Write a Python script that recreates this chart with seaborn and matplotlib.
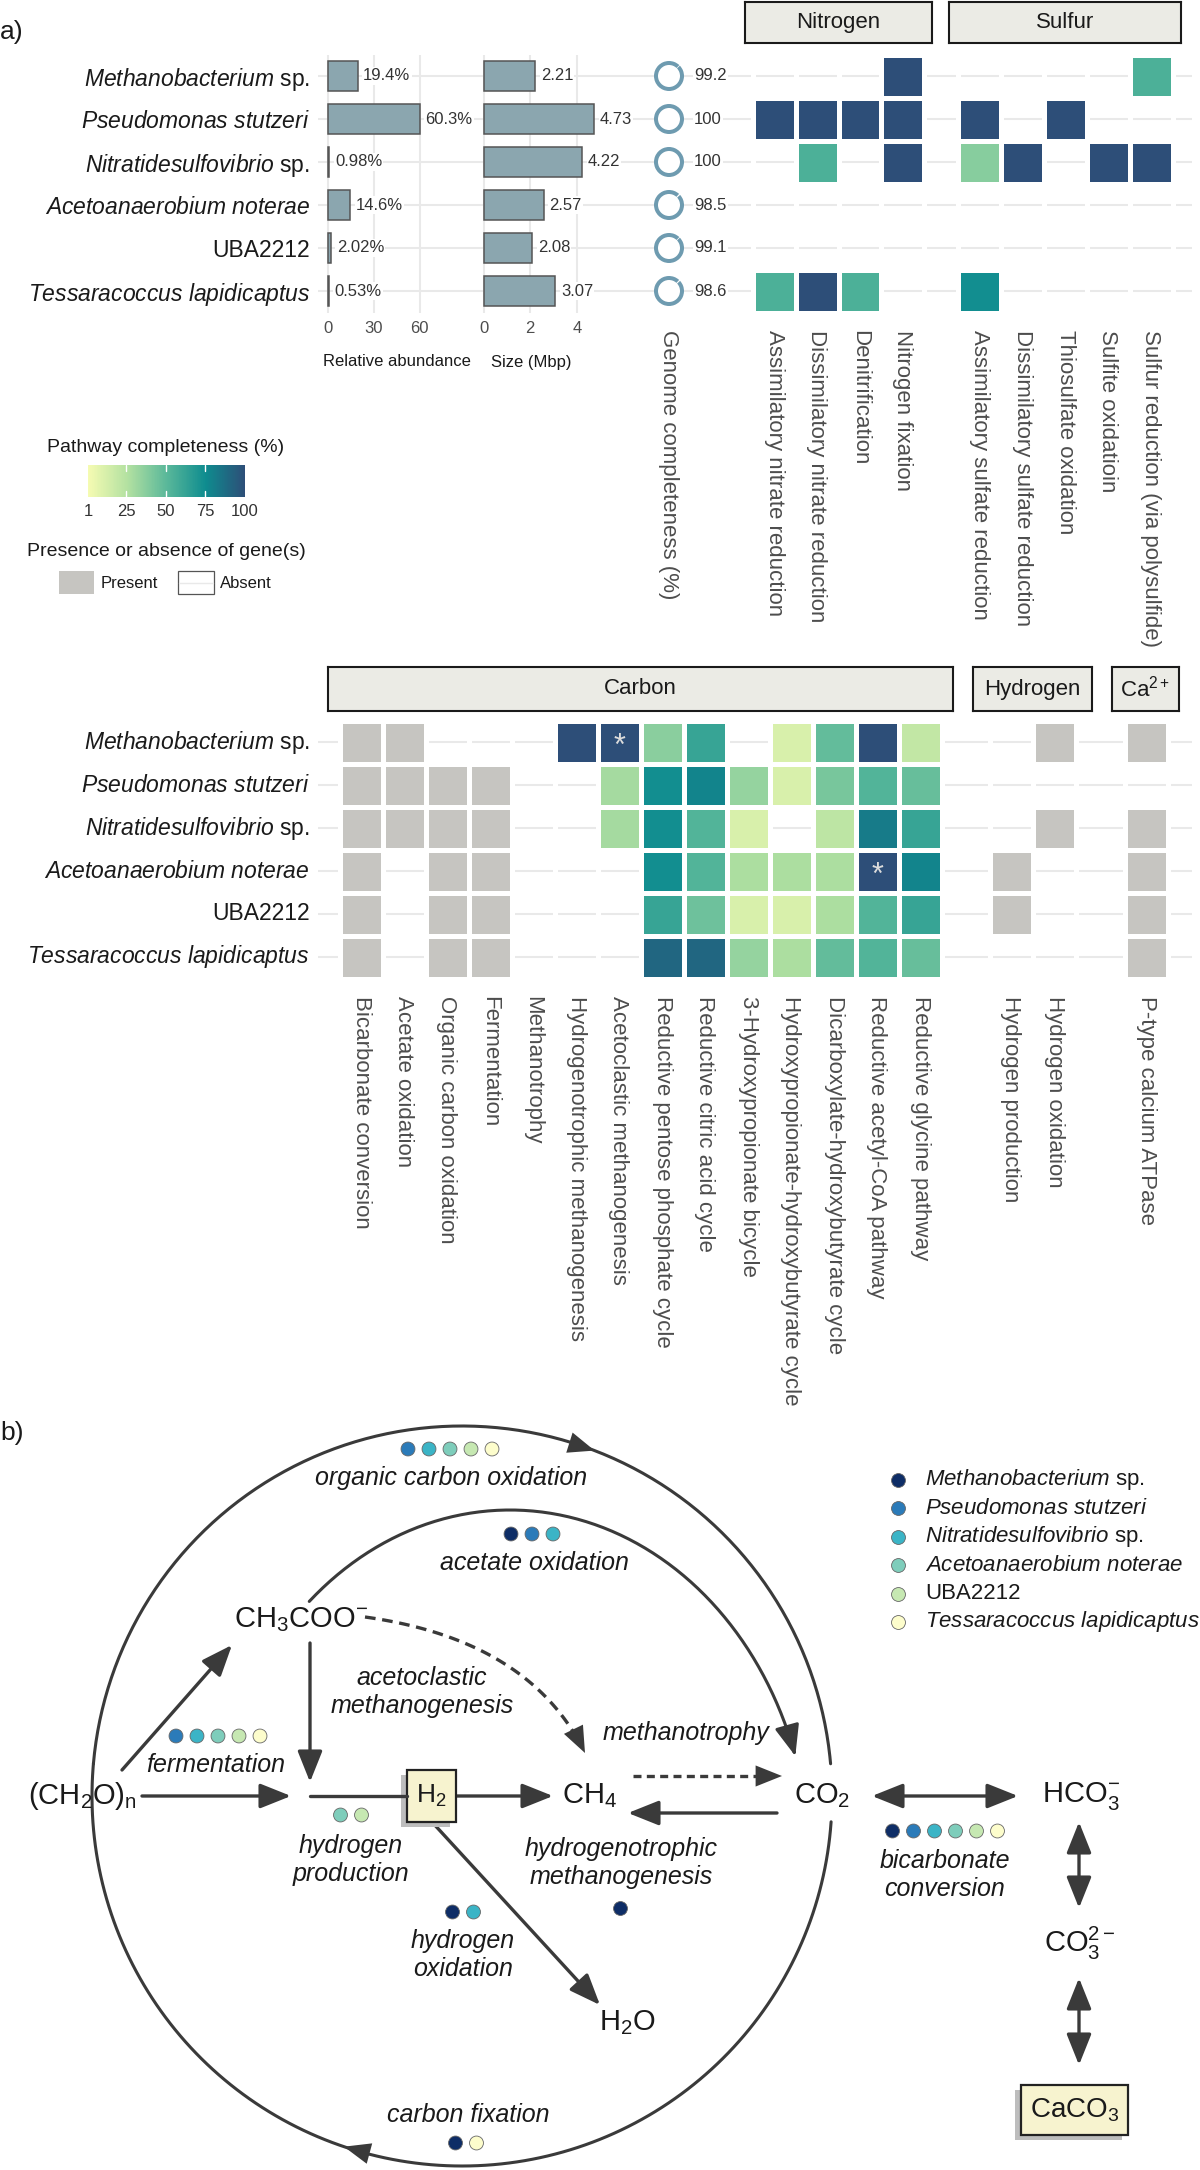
import numpy as np
import pandas as pd
import matplotlib
matplotlib.use('Agg')
import matplotlib.pyplot as plt
import seaborn as sns
from matplotlib.colors import LinearSegmentedColormap, ListedColormap, Normalize
from matplotlib.cm import ScalarMappable
from matplotlib.patches import FancyArrowPatch, Rectangle, Circle
from matplotlib.path import Path

nan = np.nan

# ── Data: genomes ─────────────────────────────────────────────────────────
species = ['Methanobacterium sp.', 'Pseudomonas stutzeri', 'Nitratidesulfovibrio sp.',
           'Acetoanaerobium noterae', 'UBA2212', 'Tessaracoccus lapidicaptus']
species_tex = [r'$\mathit{Methanobacterium}$ sp.', r'$\mathit{Pseudomonas\ stutzeri}$',
               r'$\mathit{Nitratidesulfovibrio}$ sp.', r'$\mathit{Acetoanaerobium\ noterae}$',
               'UBA2212', r'$\mathit{Tessaracoccus\ lapidicaptus}$']
rel_abundance = [19.4, 60.3, 0.98, 14.6, 2.02, 0.53]
abundance_text = ['19.4%', '60.3%', '0.98%', '14.6%', '2.02%', '0.53%']
genome_size = [2.21, 4.73, 4.22, 2.57, 2.08, 3.07]
size_text = ['2.21', '4.73', '4.22', '2.57', '2.08', '3.07']
genome_completeness = [99.2, 100, 100, 98.5, 99.1, 98.6]
completeness_text = ['99.2', '100', '100', '98.5', '99.1', '98.6']

# ── Data: pathways ────────────────────────────────────────────────────────
nitrogen_paths = ['Assimilatory nitrate reduction', 'Dissimilatory nitrate reduction',
                  'Denitrification', 'Nitrogen fixation']
nitrogen_pct = [[nan, nan, nan, 100],
                [100, 100, 100, 100],
                [nan, 55, nan, 100],
                [nan, nan, nan, nan],
                [nan, nan, nan, nan],
                [55, 100, 55, nan]]
sulfur_paths = ['Assimilatory sulfate reduction', 'Dissimilatory sulfate reduction',
                'Thiosulfate oxidation', 'Sulfite oxidatioin', 'Sulfur reduction (via polysulfide)']
sulfur_pct = [[nan, nan, nan, nan, 55],
              [100, nan, 100, nan, nan],
              [38, 100, nan, 100, 100],
              [nan, nan, nan, nan, nan],
              [nan, nan, nan, nan, nan],
              [74, nan, nan, nan, nan]]
carbon_gene_paths = ['Bicarbonate conversion', 'Acetate oxidation', 'Organic carbon oxidation',
                     'Fermentation', 'Methanotrophy']
carbon_gene_present = [[1, 1, 0, 0, 0],
                       [1, 1, 1, 1, 0],
                       [1, 1, 1, 1, 0],
                       [1, 0, 1, 1, 0],
                       [1, 0, 1, 1, 0],
                       [1, 0, 1, 1, 0]]
carbon_pct_paths = ['Hydrogenotrophic methanogenesis', 'Acetoclastic methanogenesis',
                    'Reductive pentose phosphate cycle', 'Reductive citric acid cycle',
                    '3-Hydroxypropionate bicycle', 'Hydroxypropionate-hydroxybutyrate cycle',
                    'Dicarboxylate-hydroxybutyrate cycle', 'Reductive acetyl-CoA pathway',
                    'Reductive glycine pathway']
carbon_pct = [[100, 100, 37, 62, nan, 12, 48, 100, 20],
              [nan, 30, 74, 78, 34, 12, 42, 53, 47],
              [nan, 30, 74, 53, 12, nan, 22, 82, 62],
              [nan, nan, 74, 53, 28, 28, 28, 100, 78],
              [nan, nan, 62, 45, 12, 12, 28, 53, 62],
              [nan, nan, 90, 90, 34, 28, 48, 53, 47]]
carbon_flagged = [(0, 'Acetoclastic methanogenesis'), (3, 'Reductive acetyl-CoA pathway')]
hydrogen_paths = ['Hydrogen production', 'Hydrogen oxidation']
hydrogen_present = [[0, 1], [0, 0], [0, 1], [1, 0], [1, 0], [0, 0]]
calcium_paths = ['P-type calcium ATPase']
calcium_present = [[1], [0], [1], [1], [1], [1]]

# ── Data: panel b, which genomes carry each process (index into species) ──
process_labels = ['organic carbon oxidation', 'acetate oxidation', 'fermentation',
                  'hydrogen\nproduction', 'hydrogen\noxidation',
                  'hydrogenotrophic\nmethanogenesis', 'bicarbonate\nconversion', 'carbon fixation']
process_species = [[1, 2, 3, 4, 5], [0, 1, 2], [1, 2, 3, 4, 5], [3, 4], [0, 2], [0],
                   [0, 1, 2, 3, 4, 5], [0, 5]]
extra_labels = ['acetoclastic\nmethanogenesis', 'methanotrophy']

# ── Layout / style ────────────────────────────────────────────────────────
W, H = 1200, 2170
CELL = 43
GRID = '#e9e9e9'
TXT = '#1a1a1a'
AXT = '#4d4d4d'
BAR = '#85a9b5'
RING = '#6e9bb0'
PRESENT = '#c6c5c1'
DARK = '#3a3a3a'
dot_colors = ['#0e2d66', '#2b7bb9', '#3bb4c6', '#7ecdbb', '#c6e8b2', '#fdfdcc']
cmap = LinearSegmentedColormap.from_list(
    'completeness', ['#f5fbb2', '#b3e1a1', '#5ab89a', '#0e8c8f', '#2d4e78'])

sns.set_style('white')
plt.rcParams['font.family'] = ['Liberation Sans', 'DejaVu Sans']
plt.rcParams['mathtext.fontset'] = 'custom'
plt.rcParams['mathtext.rm'] = 'Liberation Sans'
plt.rcParams['mathtext.it'] = 'Liberation Sans:italic'
plt.rcParams['mathtext.bf'] = 'Liberation Sans:bold'
plt.rcParams['mathtext.sf'] = 'Liberation Sans'
plt.rcParams['mathtext.default'] = 'regular'

fig = plt.figure(figsize=(W / 100, H / 100), dpi=100)


def px_axes(x0, y0, x1, y1, **kw):
    ax = fig.add_axes([x0 / W, 1 - y1 / H, (x1 - x0) / W, (y1 - y0) / H], **kw)
    ax.set_facecolor('none')
    return ax


TOP = (54.5, 312.5)
BOT = (720.5, 978.5)

# ── Row grid lines behind everything ──────────────────────────────────────
for y0, y1 in (TOP, BOT):
    bg = px_axes(318, y0, 1192, y1)
    bg.hlines(np.arange(6), 0, 1, color=GRID, lw=1.5)
    bg.set_xlim(0, 1)
    bg.set_ylim(5.5, -0.5)
    bg.axis('off')


# ── Bar panels ────────────────────────────────────────────────────────────
def bar_panel(x0, x1, values, labels, px_per_unit, zero_px, ticks):
    ax = px_axes(x0, TOP[0], x1, TOP[1])
    sns.barplot(x=values, y=species, orient='h', color=BAR, edgecolor='#555555',
                linewidth=1.1, width=0.7, ax=ax)
    for p in ax.patches:
        p.set_clip_on(False)
    for i, (v, t) in enumerate(zip(values, labels)):
        ax.annotate(t, (v, i), xytext=(4, 0), textcoords='offset points', va='center',
                    ha='left', fontsize=12, color='#333333', annotation_clip=False,
                    bbox=dict(fc='white', ec='none', pad=0.8))
    ax.set_xlim((x0 - zero_px) / px_per_unit, (x1 - zero_px) / px_per_unit)
    ax.set_ylim(5.5, -0.5)
    ax.set_xticks(ticks)
    ax.tick_params(axis='x', length=0, pad=6, labelsize=12, labelcolor=AXT)
    ax.xaxis.grid(True, color=GRID, lw=1.5)
    ax.set_axisbelow(True)
    ax.set_xlabel('')
    ax.set_ylabel('')
    sns.despine(ax=ax, left=True, bottom=True)
    return ax


ax_ab = bar_panel(320, 474, rel_abundance, abundance_text, 1.525, 328, [0, 30, 60])
ax_ab.set_yticks(range(6))
ax_ab.set_yticklabels(species_tex, fontsize=16.5, color=TXT)
ax_ab.tick_params(axis='y', length=0, pad=7)
ax_sz = bar_panel(476, 586, genome_size, size_text, 23.4, 483.5, [0, 2, 4])
ax_sz.set_yticks([])

# ── Genome completeness rings ─────────────────────────────────────────────
ax_gc = px_axes(640, TOP[0], 745, TOP[1])
for i, (v, t) in enumerate(zip(genome_completeness, completeness_text)):
    gap = 100 - v
    ax_gc.add_patch(Circle((0, i), 0.26, fc='white', ec='none'))
    ax_gc.pie([gap, v], colors=['white', RING], radius=15 / CELL, center=(0, i),
              startangle=-45 + gap * 3.6 / 2, counterclock=False, frame=True,
              wedgeprops=dict(width=4 / CELL, linewidth=0))
    ax_gc.text(25 / CELL, i, t, ha='left', va='center', fontsize=12, color='#333333',
               bbox=dict(fc='white', ec='none', pad=0.8))
ax_gc.set_aspect('auto')
ax_gc.set_xlim(-29 / CELL, 76 / CELL)
ax_gc.set_ylim(5.5, -0.5)
ax_gc.set_xticks([0])
ax_gc.set_xticklabels(['Genome completeness (%)'], rotation=270, fontsize=16, color=AXT)
ax_gc.set_yticks([])
ax_gc.tick_params(axis='x', length=0, pad=12.6)
for s in ax_gc.spines.values():
    s.set_visible(False)


# ── Heatmap facets ────────────────────────────────────────────────────────
def facet(x0, x1, rows, pad_l, pad_r, cols, pct=None, present=None, flagged=(),
          ylabels=False):
    ax = px_axes(x0, rows[0], x1, rows[1])
    if present is not None:
        g = pd.DataFrame(present, index=species, columns=cols, dtype=float)
        sns.heatmap(g.where(g > 0), ax=ax, cmap=ListedColormap([PRESENT]), vmin=0, vmax=1,
                    cbar=False, linewidths=2.2, linecolor='white')
    if pct is not None:
        v = pd.DataFrame(pct, index=species, columns=cols)
        sns.heatmap(v, ax=ax, cmap=cmap, vmin=1, vmax=100, cbar=False,
                    linewidths=2.2, linecolor='white')
    for r, c in flagged:
        ax.text(cols.index(c) + 0.5, r + 0.62, '*', ha='center', va='center',
                fontsize=22, color='#dcdcdc')
    n = len(cols)
    ax.set_xlim(-pad_l / CELL, n + pad_r / CELL)
    ax.set_ylim(6, 0)
    ax.set_xticks(np.arange(n) + 0.5)
    ax.set_xticklabels(cols, rotation=270, fontsize=16, color=AXT)
    ax.tick_params(axis='x', length=0, pad=12.6)
    if ylabels:
        ax.set_yticks(np.arange(6) + 0.5)
        ax.set_yticklabels(species_tex, rotation=0, fontsize=16.5, color=TXT)
        ax.tick_params(axis='y', length=0, pad=13)
    else:
        ax.set_yticks([])
    ax.set_xlabel('')
    ax.set_ylabel('')
    return ax


def strip(x0, x1, y0, y1, label):
    sa = px_axes(x0, y0, x1, y1)
    sa.set_facecolor('#ebebe5')
    sa.set_xticks([])
    sa.set_yticks([])
    for s in sa.spines.values():
        s.set_color('#1a1a1a')
        s.set_linewidth(1.5)
    sa.text(0.5, 0.5, label, ha='center', va='center', fontsize=16, color=TXT,
            transform=sa.transAxes)


facet(745, 932, TOP, 7.5, 7.5, nitrogen_paths, pct=nitrogen_pct)
facet(949, 1181, TOP, 8.5, 8.5, sulfur_paths, pct=sulfur_pct)
strip(745, 932, 2, 43, 'Nitrogen')
strip(949, 1181, 2, 43, 'Sulfur')

carbon_cols = carbon_gene_paths + carbon_pct_paths
carbon_present_all = [row + [0] * len(carbon_pct_paths) for row in carbon_gene_present]
carbon_pct_all = [[nan] * len(carbon_gene_paths) + row for row in carbon_pct]
facet(328, 953, BOT, 11.5, 11.5, carbon_cols, pct=carbon_pct_all,
      present=carbon_present_all, flagged=carbon_flagged, ylabels=True)
facet(973, 1092, BOT, 16.5, 16.5, hydrogen_paths, present=hydrogen_present)
facet(1112, 1179, BOT, 12.5, 11.5, calcium_paths, present=calcium_present)
strip(328, 953, 667, 711, 'Carbon')
strip(973, 1092, 667, 711, 'Hydrogen')
strip(1112, 1179, 667, 711, r'Ca$^{2+}$')

# ── Colour legend ─────────────────────────────────────────────────────────
cax = px_axes(88, 465, 245, 497)
cb = fig.colorbar(ScalarMappable(norm=Normalize(1, 100), cmap=cmap), cax=cax,
                  orientation='horizontal', ticks=[1, 25, 50, 75, 100])
cb.outline.set_visible(False)
cax.tick_params(length=0, labelsize=12, labelcolor='#333333', pad=5)
for t in (25, 50, 75):
    cax.plot([t, t], [0, 0.18], color='white', lw=1, transform=cax.get_xaxis_transform())
    cax.plot([t, t], [0.82, 1], color='white', lw=1, transform=cax.get_xaxis_transform())

# ── Overlay axes in pixel units: labels, legend boxes and panel b ─────────
axb = fig.add_axes([0, 0, 1, 1])
axb.set_xlim(0, W)
axb.set_ylim(H, 0)
axb.axis('off')

axb.text(0, 32, 'a)', fontsize=19, ha='left', va='center', color=TXT)
axb.text(0, 1433, 'b)', fontsize=19, ha='left', va='center', color=TXT)
axb.text(397, 362, 'Relative abundance', fontsize=12, ha='center', va='center', color=TXT)
axb.text(531, 362, 'Size (Mbp)', fontsize=12, ha='center', va='center', color=TXT)
axb.text(166, 447, 'Pathway completeness (%)', fontsize=14, ha='center', va='center', color=TXT)
axb.text(166, 552, 'Presence or absence of gene(s)', fontsize=14, ha='center', va='center',
         color=TXT)
axb.add_patch(Rectangle((59, 571), 35, 23, fc=PRESENT, ec='none'))
axb.text(101, 583, 'Present', fontsize=12, ha='left', va='center', color=TXT)
axb.add_patch(Rectangle((178, 571), 36, 23, fc='white', ec='#555555', lw=0.9))
axb.plot([179, 213], [582.5, 582.5], color=GRID, lw=1)
axb.text(220, 583, 'Absent', fontsize=12, ha='left', va='center', color=TXT)

HEAD = 'head_length=0.95,head_width=0.38'


def arrow(p0, p1, style='-|>', lw=2.4):
    axb.add_patch(FancyArrowPatch(p0, p1, arrowstyle=f'{style},{HEAD}', mutation_scale=20,
                                  color=DARK, lw=lw, shrinkA=0, shrinkB=0))


def head(tip, tail):
    axb.add_patch(FancyArrowPatch(tail, tip, arrowstyle=f'-|>,{HEAD}', mutation_scale=20,
                                  color=DARK, lw=0, shrinkA=0, shrinkB=0))


# outer carbon loop
cx, cy, r = 462, 1796, 370


def on_loop(deg):
    t = np.radians(deg)
    return cx + r * np.cos(t), cy - r * np.sin(t)


for a0, a1 in ((175, 5), (-4, -185)):
    th = np.radians(np.linspace(a0, a1, 300))
    axb.plot(cx + r * np.cos(th), cy - r * np.sin(th), color=DARK, lw=2.2)
head(on_loop(69), on_loop(76))
head(on_loop(-108.6), on_loop(-101.6))

# acetate oxidation arc
th = np.radians(np.linspace(132, 18, 200))
arc = np.column_stack([510 + 300 * np.cos(th), 1866 - 356 * np.sin(th)])
axb.add_patch(FancyArrowPatch(path=Path(arc), arrowstyle=f'-|>,{HEAD}', mutation_scale=20,
                              color=DARK, lw=2.2))

# acetoclastic (dashed) and methanotrophy (dotted)
t = np.linspace(0, 0.9, 60)[:, None]
p0, p1, p2 = np.array([365, 1617]), np.array([530, 1640]), np.array([585, 1753])
bez = (1 - t) ** 2 * p0 + 2 * (1 - t) * t * p1 + t ** 2 * p2
axb.plot(bez[:, 0], bez[:, 1], color=DARK, lw=2.4, dashes=(3.2, 2))
head((585, 1753), (567.5, 1717))
axb.plot([633, 760], [1776, 1776], color=DARK, lw=2.4, dashes=(2.4, 1.6))
head((782, 1776), (742, 1776))

# straight reactions
for a, b in [((142, 1796), (291, 1796)), ((122, 1770), (232, 1645)),
             ((310, 1643), (310, 1782)), ((456, 1796), (553, 1796)),
             ((432, 1822), (600, 2005)), ((777, 1813), (628, 1813))]:
    arrow(a, b)
axb.plot([310, 407], [1796, 1796], color=DARK, lw=2.4)
for a, b in [((872, 1796), (1018, 1796)), ((1079, 1822), (1079, 1908)),
             ((1079, 1978), (1079, 2065))]:
    arrow(a, b, style='<|-|>')

# boxed species
for (x, y, w, h), lab, fs in [((407, 1770, 49, 52), r'H$_2$', 19),
                              ((1021, 2085, 107, 50), r'CaCO$_3$', 20)]:
    axb.add_patch(Rectangle((x - 6, y + 5), w, h, fc='#bdbdbd', ec='none'))
    axb.add_patch(Rectangle((x, y), w, h, fc='#f7f3cf', ec='#222222', lw=1.6))
    axb.text(x + w / 2, y + h / 2, lab, fontsize=fs, ha='center', va='center', color=TXT)

chem = [(r'(CH$_2$O)$_n$', 82, 1796), (r'CH$_3$COO$^{-}$', 301, 1620), (r'CH$_4$', 590, 1796),
        (r'CO$_2$', 822, 1796), (r'HCO$_3^{-}$', 1081, 1796), (r'CO$_3^{2-}$', 1080, 1943),
        (r'H$_2$O', 627, 2023)]
for lab, x, y in chem:
    axb.text(x, y, lab, fontsize=21, ha='center', va='center', color=TXT)

label_pos = [(451, 1478), (534, 1563), (216, 1765), (351, 1860), (463, 1955), (621, 1863),
             (945, 1875), (468, 2115)]
dot_pos = [(450, 1449), (532, 1534), (218, 1736), (351, 1815), (463, 1912), (620, 1908),
           (945, 1831), (466, 2143)]
for lab, (lx, ly), (dx, dy), members in zip(process_labels, label_pos, dot_pos,
                                            process_species):
    axb.text(lx, ly, lab, fontsize=18, style='italic', ha='center', va='center',
             color=TXT, linespacing=1.2)
    xs = dx + 21 * (np.arange(len(members)) - (len(members) - 1) / 2)
    axb.scatter(xs, [dy] * len(members), s=100, c=[dot_colors[m] for m in members],
                edgecolors='#666666', linewidths=0.6, zorder=3)
for lab, (lx, ly) in zip(extra_labels, [(422, 1692), (686, 1733)]):
    axb.text(lx, ly, lab, fontsize=18, style='italic', ha='center', va='center',
             color=TXT, linespacing=1.2)

# species legend for panel b
for i, lab in enumerate(species_tex):
    y = 1480 + 28.4 * i
    axb.scatter([898], [y], s=100, c=[dot_colors[i]], edgecolors='#666666', linewidths=0.6)
    axb.text(925, y, lab, fontsize=16, ha='left', va='center', color=TXT)

fig.savefig('out.png', dpi=100)
